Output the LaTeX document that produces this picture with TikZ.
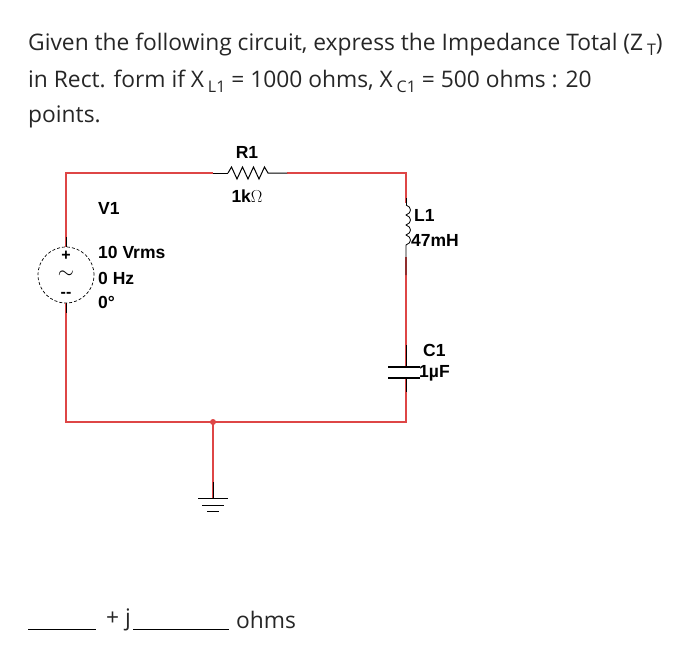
\documentclass[tikz,border=0pt]{standalone}
\usepackage{fontspec}
\setmainfont{Open Sans}
\newfontfamily\lab{Liberation Sans}
\definecolor{wire}{RGB}{222,70,70}
\begin{document}
\begin{tikzpicture}[x=1pt,y=-1pt,
  w/.style={wire,line width=1.3pt},
  b/.style={black,line width=1pt},
  txt/.style={anchor=west,inner sep=0pt,font=\fontsize{22.8}{26}\selectfont,text=black!85},
  lb/.style={inner sep=0pt,font=\lab\bfseries\fontsize{17.5}{20}\selectfont},
  sym/.style={inner sep=0pt,font=\lab\bfseries\fontsize{16}{18}\selectfont}]
\useasboundingbox (0,0) rectangle (700,671);
\node[txt] (t1) at (28,45) {Given the following circuit, express the Impedance Total (Z\,{\fontsize{16}{16}\selectfont\raisebox{-5pt}{T}})};
\node[txt] (t2) at (28,81) {in Rect. form if X\,{\fontsize{16}{16}\selectfont\raisebox{-5pt}{L1}} = 1000 ohms, X\,{\fontsize{16}{16}\selectfont\raisebox{-5pt}{C1}} = 500 ohms : 20};
\node[txt] (t3) at (28,117) {points.};
\coordinate (tl) at (66,173);
\coordinate (tr) at (406,173);
\coordinate (bl) at (66,422);
\coordinate (br) at (406,422);
\coordinate (ra) at (213,173);
\coordinate (rb) at (287,173);
\coordinate (la) at (406,203);
\coordinate (lb2) at (406,257);
\coordinate (ca) at (406,367);
\coordinate (cb) at (406,378);
\coordinate (j) at (213,422);
\coordinate (g) at (213,498);
\node[circle,draw,densely dashed,line width=0.7pt,minimum size=56pt,inner sep=0pt] (v) at (66,275) {};
\draw[w] (v.north) -- (tl) -- (ra);
\draw[w] (rb) -- (tr) -- (la);
\draw[w] (lb2) -- (ca);
\draw[w] (cb) -- (br) -- (bl) -- (v.south);
\draw[w] (j) -- (g);
\fill[wire] (j) circle (3pt);
\draw[b] (v.north) -- ++(0,-10);
\draw[b] (v.south) -- ++(0,10);
\draw[b] (213,173) -- (228,173);
\draw[b] (228,173) -- (231.5,167) -- (237,179) -- (242.5,167) -- (248,179) -- (253.5,167) -- (259,179) -- (264.5,167) -- (268,173) -- (287,173);
\draw[b] (406,198) -- (406,205);
\draw[b,line width=0.8pt] (406,205) .. controls (412,207) and (412,213) .. (406,215) .. controls (412,217) and (412,223) .. (406,225) .. controls (412,227) and (412,233) .. (406,235) .. controls (412,237) and (412,243) .. (406,245) -- (406,275);
\draw[b] (406,345) -- (ca);
\draw[b,line width=1.6pt] (388,367) -- (420,367);
\draw[b,line width=1.6pt] (388,378) -- (420,378);
\draw[b] (cb) -- (406,392);
\draw[b] (213,482) -- (g);
\draw[b] (198,498) -- (228,498);
\draw[b] (202,505) -- (224,505);
\draw[b] (207,511) -- (219,511);
\node[sym] (pl) at (66,256) {+};
\node[inner sep=0pt,font=\fontsize{22}{22}\selectfont] (ti) at (66,275) {$\sim$};
\node[sym] (mi) at (66,295) {--};
\node[lb] (r1) at (247,152) {R1};
\node[lb] (r1v) at (247,196) {1k$\Omega$};
\node[lb,anchor=west] (v1) at (98,208) {V1};
\node[lb,anchor=west] (v1a) at (98,252) {10 Vrms};
\node[lb,anchor=west] (v1b) at (98,278) {0 Hz};
\node[lb,anchor=west] (v1c) at (98,302) {0\textdegree};
\node[lb,anchor=west] (l1) at (414,215) {L1};
\node[lb,anchor=west] (l1v) at (411,240) {47mH};
\node[lb,anchor=west] (c1) at (423,350) {C1};
\node[lb,anchor=west] (c1v) at (419,373) {1\textmu F};
\coordinate (u1a) at (28,629); \coordinate (u1b) at (96,629);
\coordinate (u2a) at (133,629); \coordinate (u2b) at (229,629);
\draw[line width=0.8pt] (u1a) -- (u1b);
\draw[line width=0.8pt] (u2a) -- (u2b);
\node[txt] (pj) at (106,620) {+ j};
\node[txt] (oh) at (236,620) {ohms};
\end{tikzpicture}
\end{document}
